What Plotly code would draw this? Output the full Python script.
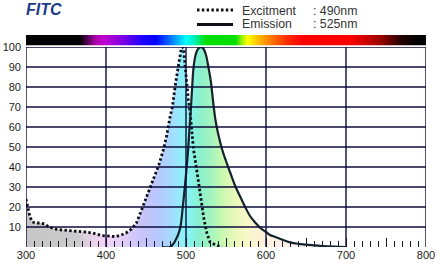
import plotly.graph_objects as go

# ---------------- data ----------------
ex_wl = [300, 302, 305, 308, 312, 318, 323, 327, 335, 345, 355, 365, 375, 385, 395,
         405, 412, 418, 425, 432, 438, 443, 451, 455, 460, 466, 472, 476, 480, 483,
         487, 491, 494, 496, 497, 499, 501, 503, 505, 507.5, 509.5, 514, 518, 522,
         526, 530, 537, 545]
ex_val = [24, 20, 15, 12.5, 12, 12, 11.5, 10.5, 9, 8.5, 8, 7.8, 7.5, 6.8, 5.7,
          5.2, 5.2, 5.8, 7, 9, 12, 17, 25, 30, 34, 41, 49, 56, 65, 70,
          82, 93, 99, 100, 99, 90, 80, 73.5, 68, 58.5, 48.5, 37, 25, 15,
          7, 2.5, 1, 0]

em_wl = [470, 480, 484, 487, 490, 493, 496, 499, 502, 504.5, 506, 507.5, 509.5, 512,
         515, 519, 522, 525, 528, 531, 533, 535, 537, 540, 545, 550, 555, 561, 568,
         574, 580, 587, 593, 600, 605, 612, 618, 625, 631, 640, 650, 660, 670, 685, 700]
em_val = [0, 0, 1.5, 3.5, 6, 10, 20, 32, 45, 60, 68.5, 78.5, 90, 96,
          99, 100, 99, 96, 90, 83, 76, 69, 63, 57, 49, 43, 37.5, 31, 25,
          20, 15.5, 12, 9.5, 7.5, 6, 5, 4, 3, 2.2, 1.6, 1.2, 0.8, 0.5, 0.2, 0]

x_ticks = [300, 400, 500, 600, 700, 800]
y_ticks = [10, 20, 30, 40, 50, 60, 70, 80, 90, 100]

title_text = "FITC"
legend_names = ["Excitment", "Emission"]
legend_values = [": 490nm", ": 525nm"]

# ---------------- styling ----------------
X0, X1 = 300, 800
def pos(nm):
    return (nm - X0) / (X1 - X0)

fill_stops = [(300, "#c6c6c6"), (365, "#cccccc"), (385, "#ecd2ec"), (400, "#f4d4f4"),
              (420, "#e2d0f8"), (445, "#c8c4f8"), (465, "#b8c8ff"), (480, "#a8d8ff"),
              (495, "#90f0f8"), (505, "#88f4f0"), (515, "#88f0d0"), (530, "#a0f4c0"),
              (545, "#c8f8b0"), (560, "#e8f8b8"), (575, "#f8f8c8"), (595, "#fcf0d8"),
              (620, "#fff0e8"), (700, "#fff4f4"), (800, "#ffffff")]
fill_scale = [[pos(n), c] for n, c in fill_stops]

spec_stops = [(300, "#000000"), (367, "#000000"), (388, "#b000b0"), (398, "#c000d0"),
              (420, "#8000e0"), (445, "#2000ff"), (462, "#0000ff"), (478, "#0060ff"),
              (500, "#00ffff"), (510, "#00f0c0"), (525, "#00e000"), (562, "#00e000"),
              (570, "#a0f000"), (577, "#ffff00"), (600, "#ff9000"), (625, "#ff3000"),
              (645, "#ff0000"), (705, "#ff0000"), (742, "#a00000"), (770, "#200000"),
              (790, "#000000"), (800, "#000000")]
spec_scale = [[pos(n), c] for n, c in spec_stops]

W, H = 435, 263
ML, MR, MT, MB = 26, 9, 35, 16
PH = H - MT - MB
def py(y_px):
    return (H - MB - y_px) / PH
def fx(px):
    return (px - ML) / (W - ML - MR)

GRID = "#0c0c3a"
FONT = "Liberation Sans, Arial, sans-serif"
DOT = dict(color="#101018", width=2.8, dash="2.5px,2.3px")

fig = go.Figure()

# fills under the curves (coloured by wavelength)
for wl, val in ((ex_wl, ex_val), (em_wl, em_val)):
    fig.add_trace(go.Scatter(
        x=wl, y=val, mode="lines", line=dict(width=0), fill="tozeroy",
        fillgradient=dict(type="horizontal", colorscale=fill_scale, start=X0, stop=X1),
        hoverinfo="skip", showlegend=False))

# curves
fig.add_trace(go.Scatter(x=ex_wl, y=ex_val, mode="lines", name=legend_names[0],
                         line=DOT, showlegend=False))
fig.add_trace(go.Scatter(x=em_wl, y=em_val, mode="lines", name=legend_names[1],
                         line=dict(color="#14242c", width=2.2, shape="spline"),
                         showlegend=False))

# spectrum bar
fig.add_trace(go.Scatter(
    x=[X0, X1], y=[1, 1], mode="lines", line=dict(width=0), fill="tozeroy",
    fillgradient=dict(type="horizontal", colorscale=spec_scale, start=X0, stop=X1),
    xaxis="x", yaxis="y2", hoverinfo="skip", showlegend=False))

# grid lines drawn above the fills
for v in y_ticks:
    fig.add_shape(type="line", xref="x", yref="y", x0=X0, x1=X1, y0=v, y1=v,
                  line=dict(color=GRID, width=1.3), layer="above")
for v in x_ticks:
    fig.add_shape(type="line", xref="x", yref="y", x0=v, x1=v, y0=0, y1=100,
                  line=dict(color=GRID, width=1.4), layer="above")

# title + legend
fig.add_annotation(x=fx(24), y=py(10), xref="paper", yref="paper",
                   text="<b><i>" + title_text + "</i></b>", showarrow=False,
                   xanchor="left", yanchor="middle",
                   font=dict(family=FONT, size=16, color="#1c3c88"))
fig.add_shape(type="line", xref="paper", yref="paper", x0=fx(197), x1=fx(233),
              y0=py(10), y1=py(10), line=DOT)
fig.add_shape(type="line", xref="paper", yref="paper", x0=fx(197), x1=fx(233),
              y0=py(24.5), y1=py(24.5), line=dict(color="#101018", width=2.8))
for i, yy in enumerate((11, 24.5)):
    fig.add_annotation(x=fx(240), y=py(yy), xref="paper", yref="paper",
                       text=legend_names[i], showarrow=False, xanchor="left",
                       yanchor="middle", font=dict(family=FONT, size=12.3, color="#333333"))
    fig.add_annotation(x=fx(311), y=py(yy), xref="paper", yref="paper",
                       text=legend_values[i], showarrow=False, xanchor="left",
                       yanchor="middle", font=dict(family=FONT, size=12.3, color="#333333"))

major_vals = list(range(300, 801, 50))
major_text = [str(v) if v in x_ticks else "" for v in major_vals]

fig.update_layout(
    width=W, height=H,
    margin=dict(l=ML, r=MR, t=MT, b=MB, pad=0),
    paper_bgcolor="white", plot_bgcolor="white",
    showlegend=False,
    xaxis=dict(range=[X0, X1], showgrid=False, zeroline=False, showline=False,
               tickvals=major_vals, ticktext=major_text, ticks="inside", ticklen=9,
               tickcolor="#1a1a30", tickwidth=1,
               minor=dict(dtick=10, ticks="inside", ticklen=6, tickcolor="#1a1a30",
                          tickwidth=1, showgrid=False),
               tickfont=dict(family=FONT, size=11, color="#222222"),
               automargin=False, ticklabelstandoff=0, ticklabeloverflow="allow"),
    yaxis=dict(range=[0, 100], domain=[0, py(47)], showgrid=False, zeroline=False,
               showline=False, tickvals=y_ticks, ticks="",
               tickfont=dict(family=FONT, size=11, color="#222222"),
               automargin=False, ticklabelstandoff=4),
    yaxis2=dict(range=[0, 1], domain=[py(45.5), 1], showgrid=False, zeroline=False,
                showticklabels=False, ticks="", fixedrange=True),
)

fig.write_html("out.html")
